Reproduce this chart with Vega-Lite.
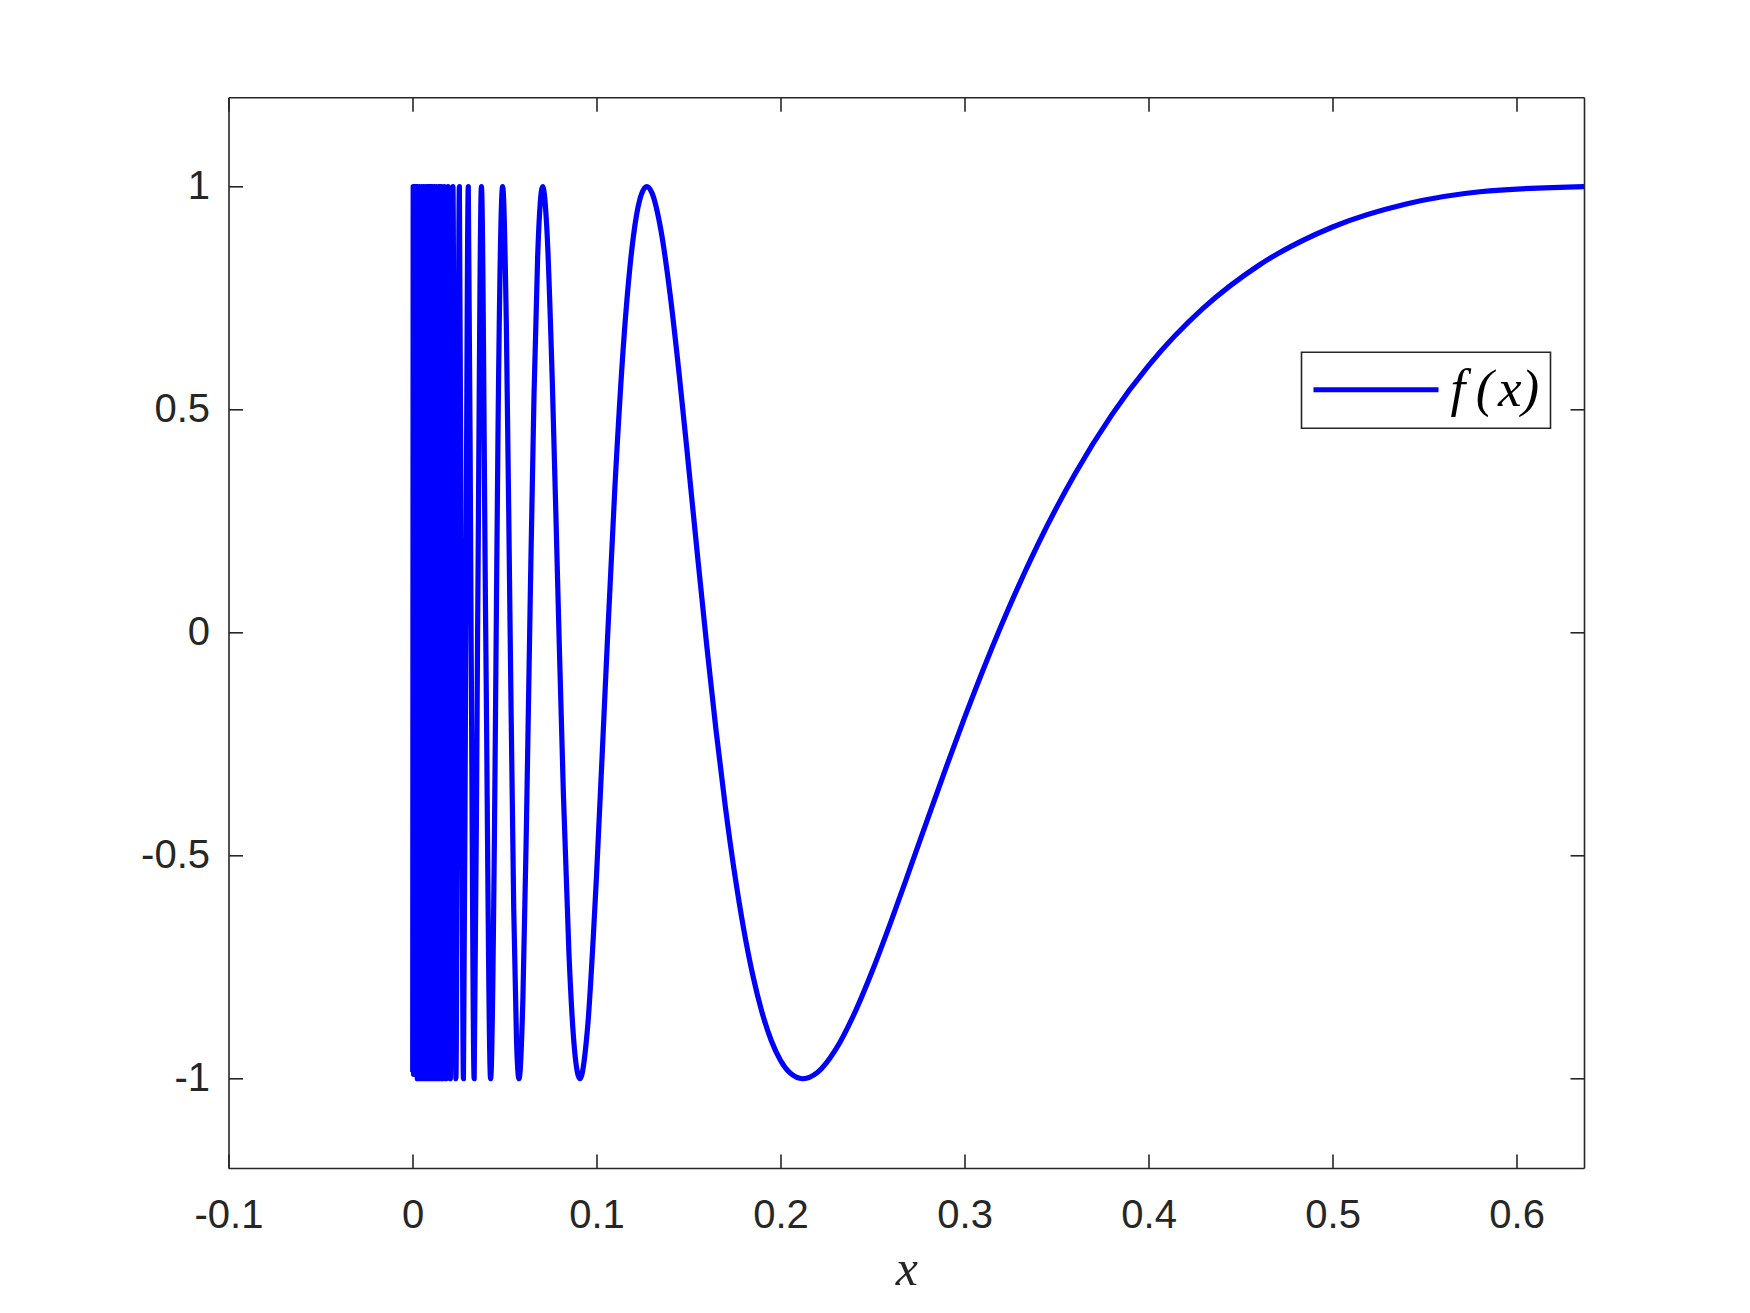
{
  "$schema": "https://vega.github.io/schema/vega-lite/v6.json",
  "autosize": {"type": "none"},
  "padding": {"left": 228.5, "top": 97.3, "right": 166, "bottom": 145},
  "width": 1355.5,
  "height": 1070.7,
  "background": "white",
  "config": {
    "view": {"stroke": null},
    "axis": {
      "grid": false,
      "domainColor": "#262626",
      "domainWidth": 1.6,
      "tickColor": "#262626",
      "tickWidth": 1.6,
      "tickSize": -14,
      "labelFont": "Liberation Sans",
      "labelFontSize": 40,
      "labelColor": "#262626",
      "titleColor": "#262626",
      "labelFlush": false,
      "labelOverlap": false
    },
    "legend": {"strokeWidth": 1.6}
  },
  "data": {
    "values": [
      {"x": 0.0001, "y": -0.985, "s": "f(x)"},
      {"x": 0.00035, "y": 1, "s": "f(x)"},
      {"x": 0.0006, "y": -0.99, "s": "f(x)"},
      {"x": 0.00085, "y": 1, "s": "f(x)"},
      {"x": 0.0011, "y": -0.99, "s": "f(x)"},
      {"x": 0.00135, "y": 1, "s": "f(x)"},
      {"x": 0.0016, "y": -0.985, "s": "f(x)"},
      {"x": 0.00185, "y": 1, "s": "f(x)"},
      {"x": 0.0021, "y": -0.99, "s": "f(x)"},
      {"x": 0.00235, "y": 1, "s": "f(x)"},
      {"x": 0.0026, "y": -1, "s": "f(x)"},
      {"x": 0.00285, "y": 1, "s": "f(x)"},
      {"x": 0.0031, "y": -1, "s": "f(x)"},
      {"x": 0.00335, "y": 0.995, "s": "f(x)"},
      {"x": 0.0036, "y": -1, "s": "f(x)"},
      {"x": 0.00385, "y": 1, "s": "f(x)"},
      {"x": 0.0041, "y": -1, "s": "f(x)"},
      {"x": 0.00435, "y": 0.975, "s": "f(x)"},
      {"x": 0.0046, "y": -1, "s": "f(x)"},
      {"x": 0.00485, "y": 1, "s": "f(x)"},
      {"x": 0.0051, "y": -1, "s": "f(x)"},
      {"x": 0.00535, "y": 0.99, "s": "f(x)"},
      {"x": 0.0056, "y": -1, "s": "f(x)"},
      {"x": 0.00585, "y": 1, "s": "f(x)"},
      {"x": 0.0061, "y": -1, "s": "f(x)"},
      {"x": 0.00635, "y": 1, "s": "f(x)"},
      {"x": 0.0066, "y": -1, "s": "f(x)"},
      {"x": 0.00685, "y": 0.98, "s": "f(x)"},
      {"x": 0.0071, "y": -1, "s": "f(x)"},
      {"x": 0.00735, "y": 1, "s": "f(x)"},
      {"x": 0.0076, "y": -1, "s": "f(x)"},
      {"x": 0.00786, "y": 1, "s": "f(x)"},
      {"x": 0.008059, "y": -1, "s": "f(x)"},
      {"x": 0.008268, "y": 1, "s": "f(x)"},
      {"x": 0.008488, "y": -1, "s": "f(x)"},
      {"x": 0.008721, "y": 1, "s": "f(x)"},
      {"x": 0.008967, "y": -1, "s": "f(x)"},
      {"x": 0.009226, "y": 1, "s": "f(x)"},
      {"x": 0.009502, "y": -1, "s": "f(x)"},
      {"x": 0.009794, "y": 1, "s": "f(x)"},
      {"x": 0.010105, "y": -1, "s": "f(x)"},
      {"x": 0.010436, "y": 1, "s": "f(x)"},
      {"x": 0.01079, "y": -1, "s": "f(x)"},
      {"x": 0.011169, "y": 1, "s": "f(x)"},
      {"x": 0.011575, "y": -1, "s": "f(x)"},
      {"x": 0.012012, "y": 1, "s": "f(x)"},
      {"x": 0.012483, "y": -1, "s": "f(x)"},
      {"x": 0.012992, "y": 1, "s": "f(x)"},
      {"x": 0.013545, "y": -1, "s": "f(x)"},
      {"x": 0.014147, "y": 1, "s": "f(x)"},
      {"x": 0.014805, "y": -1, "s": "f(x)"},
      {"x": 0.015527, "y": 1, "s": "f(x)"},
      {"x": 0.016324, "y": -1, "s": "f(x)"},
      {"x": 0.017206, "y": 1, "s": "f(x)"},
      {"x": 0.018189, "y": -1, "s": "f(x)"},
      {"x": 0.019291, "y": 1, "s": "f(x)"},
      {"x": 0.020536, "y": -1, "s": "f(x)"},
      {"x": 0.021953, "y": 1, "s": "f(x)"},
      {"x": 0.023579, "y": -1, "s": "f(x)"},
      {"x": 0.025465, "y": 1, "s": "f(x)"},
      {"x": 0.026526, "y": 0, "s": "f(x)"},
      {"x": 0.027679, "y": -1, "s": "f(x)"},
      {"x": 0.028937, "y": 0, "s": "f(x)"},
      {"x": 0.030315, "y": 1, "s": "f(x)"},
      {"x": 0.031831, "y": 0, "s": "f(x)"},
      {"x": 0.033506, "y": -1, "s": "f(x)"},
      {"x": 0.035368, "y": 0, "s": "f(x)"},
      {"x": 0.037448, "y": 1, "s": "f(x)"},
      {"x": 0.039789, "y": 0, "s": "f(x)"},
      {"x": 0.042441, "y": -1, "s": "f(x)"},
      {"x": 0.0445, "y": -0.4625, "s": "f(x)"},
      {"x": 0.045473, "y": 0, "s": "f(x)"},
      {"x": 0.0465, "y": 0.4669, "s": "f(x)"},
      {"x": 0.048971, "y": 1, "s": "f(x)"},
      {"x": 0.051, "y": 0.6877, "s": "f(x)"},
      {"x": 0.053, "y": 0.0184, "s": "f(x)"},
      {"x": 0.055, "y": -0.6192, "s": "f(x)"},
      {"x": 0.0565, "y": -0.913, "s": "f(x)"},
      {"x": 0.057875, "y": -1, "s": "f(x)"},
      {"x": 0.06, "y": -0.8184, "s": "f(x)"},
      {"x": 0.062, "y": -0.4088, "s": "f(x)"},
      {"x": 0.064, "y": 0.0829, "s": "f(x)"},
      {"x": 0.066, "y": 0.5282, "s": "f(x)"},
      {"x": 0.068, "y": 0.8426, "s": "f(x)"},
      {"x": 0.070736, "y": 1, "s": "f(x)"},
      {"x": 0.073, "y": 0.9054, "s": "f(x)"},
      {"x": 0.076, "y": 0.5576, "s": "f(x)"},
      {"x": 0.079, "y": 0.0917, "s": "f(x)"},
      {"x": 0.082, "y": -0.3628, "s": "f(x)"},
      {"x": 0.085, "y": -0.7185, "s": "f(x)"},
      {"x": 0.088, "y": -0.933, "s": "f(x)"},
      {"x": 0.090946, "y": -1, "s": "f(x)"},
      {"x": 0.095, "y": -0.8919, "s": "f(x)"},
      {"x": 0.1, "y": -0.544, "s": "f(x)"},
      {"x": 0.105, "y": -0.0989, "s": "f(x)"},
      {"x": 0.11, "y": 0.3277, "s": "f(x)"},
      {"x": 0.115, "y": 0.6662, "s": "f(x)"},
      {"x": 0.12, "y": 0.8873, "s": "f(x)"},
      {"x": 0.1235, "y": 0.9706, "s": "f(x)"},
      {"x": 0.127324, "y": 1, "s": "f(x)"},
      {"x": 0.13, "y": 0.987, "s": "f(x)"},
      {"x": 0.135, "y": 0.9019, "s": "f(x)"},
      {"x": 0.14, "y": 0.7576, "s": "f(x)"},
      {"x": 0.145, "y": 0.5756, "s": "f(x)"},
      {"x": 0.15, "y": 0.3741, "s": "f(x)"},
      {"x": 0.155, "y": 0.1676, "s": "f(x)"},
      {"x": 0.16, "y": -0.0332, "s": "f(x)"},
      {"x": 0.165, "y": -0.2208, "s": "f(x)"},
      {"x": 0.17, "y": -0.3902, "s": "f(x)"},
      {"x": 0.175, "y": -0.5387, "s": "f(x)"},
      {"x": 0.18, "y": -0.6651, "s": "f(x)"},
      {"x": 0.185, "y": -0.7693, "s": "f(x)"},
      {"x": 0.19, "y": -0.8521, "s": "f(x)"},
      {"x": 0.195, "y": -0.9148, "s": "f(x)"},
      {"x": 0.2, "y": -0.9589, "s": "f(x)"},
      {"x": 0.205, "y": -0.9863, "s": "f(x)"},
      {"x": 0.212207, "y": -1, "s": "f(x)"},
      {"x": 0.22, "y": -0.9861, "s": "f(x)"},
      {"x": 0.23, "y": -0.9343, "s": "f(x)"},
      {"x": 0.24, "y": -0.8548, "s": "f(x)"},
      {"x": 0.25, "y": -0.7568, "s": "f(x)"},
      {"x": 0.26, "y": -0.6477, "s": "f(x)"},
      {"x": 0.27, "y": -0.533, "s": "f(x)"},
      {"x": 0.28, "y": -0.4167, "s": "f(x)"},
      {"x": 0.29, "y": -0.3019, "s": "f(x)"},
      {"x": 0.3, "y": -0.1906, "s": "f(x)"},
      {"x": 0.31, "y": -0.0841, "s": "f(x)"},
      {"x": 0.32, "y": 0.0166, "s": "f(x)"},
      {"x": 0.34, "y": 0.1991, "s": "f(x)"},
      {"x": 0.36, "y": 0.3558, "s": "f(x)"},
      {"x": 0.38, "y": 0.4882, "s": "f(x)"},
      {"x": 0.4, "y": 0.5985, "s": "f(x)"},
      {"x": 0.43, "y": 0.7284, "s": "f(x)"},
      {"x": 0.46, "y": 0.8236, "s": "f(x)"},
      {"x": 0.5, "y": 0.9093, "s": "f(x)"},
      {"x": 0.54, "y": 0.9608, "s": "f(x)"},
      {"x": 0.58, "y": 0.9883, "s": "f(x)"},
      {"x": 0.63662, "y": 1, "s": "f(x)"}
    ]
  },
  "layer": [
    {
      "mark": {"type": "line", "strokeWidth": 5.2, "strokeJoin": "round", "interpolate": "monotone", "clip": true},
      "encoding": {
        "x": {
          "field": "x", "type": "quantitative",
          "scale": {"domain": [-0.1, 0.63662], "nice": false, "zero": false},
          "axis": {
            "values": [-0.1, 0, 0.1, 0.2, 0.3, 0.4, 0.5, 0.6],
            "labelExpr": "'' + datum.value",
            "labelPadding": 41,
            "title": "x",
            "titleFont": "Liberation Serif",
            "titleFontStyle": "italic",
            "titleFontWeight": "normal",
            "titleFontSize": 50,
            "titleBaseline": "alphabetic",
            "titleY": 116
          }
        },
        "y": {
          "field": "y", "type": "quantitative",
          "scale": {"domain": [-1.2, 1.2], "nice": false, "zero": false},
          "axis": {
            "values": [-1, -0.5, 0, 0.5, 1],
            "labelExpr": "'' + datum.value",
            "labelPadding": 33,
            "title": null
          }
        },
        "color": {
          "field": "s", "type": "nominal",
          "scale": {"range": ["#0000ff"]},
          "legend": {
            "orient": "none",
            "legendX": 1073,
            "legendY": 255,
            "title": null,
            "symbolType": "M-4,0H4",
            "symbolSize": 977,
            "symbolOffset": 37,
            "symbolStrokeWidth": 5,
            "symbolFillColor": "transparent",
            "strokeColor": "#262626",
            "fillColor": "white",
            "padding": 11,
            "labelExpr": "'f\u2009(\u200ax)'",
            "labelFont": "Liberation Serif",
            "labelFontStyle": "italic",
            "labelFontSize": 53,
            "labelOffset": 48,
            "labelColor": "#000000"
          }
        }
      }
    },
    {
      "mark": {"type": "line", "opacity": 0},
      "encoding": {
        "x": {
          "field": "x", "type": "quantitative",
          "axis": {"orient": "top", "values": [-0.1, 0, 0.1, 0.2, 0.3, 0.4, 0.5, 0.6], "labels": false, "title": null}
        },
        "y": {
          "field": "y", "type": "quantitative",
          "axis": {"orient": "right", "values": [-1, -0.5, 0, 0.5, 1], "labels": false, "title": null}
        }
      }
    }
  ],
  "resolve": {"axis": {"x": "independent", "y": "independent"}}
}
